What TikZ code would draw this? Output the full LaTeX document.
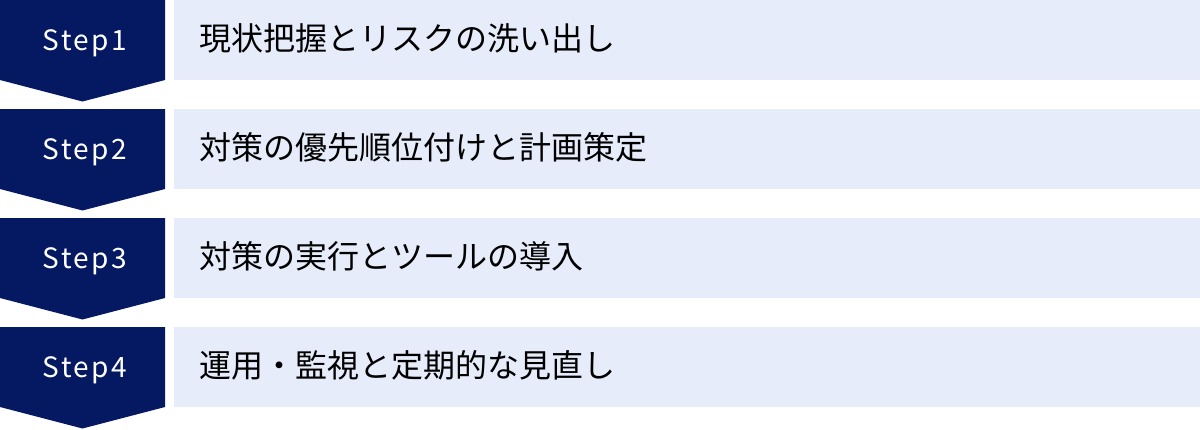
\documentclass[tikz,border=0pt]{standalone}
\usepackage{fontspec}
\newfontfamily\jpfont{Noto Sans CJK JP}
\newfontfamily\stepfont[LetterSpace=9]{Noto Sans CJK JP}
\definecolor{navy}{RGB}{5,24,98}
\definecolor{paleblue}{RGB}{230,236,250}
\begin{document}
\begin{tikzpicture}[x=1pt,y=-1pt,
  stepshape/.style={fill=navy,draw=none},
  bar/.style={fill=paleblue,draw=none},
  steplabel/.style={text=white,inner sep=0pt,anchor=base,font=\stepfont\fontsize{28}{32}\selectfont},
  tasklabel/.style={text=black,inner sep=0pt,anchor=base west,font=\jpfont\fontsize{32}{38}\selectfont}]
\useasboundingbox (0,0) rectangle (1200,429);
\foreach \i/\task in {0/現状把握とリスクの洗い出し,1/対策の優先順位付けと計画策定,2/対策の実行とツールの導入,3/運用・監視と定期的な見直し}{
  \pgfmathsetmacro{\t}{109*\i}
  \fill[stepshape] (0,\t) -- (165,\t) -- (165,\t+80) -- (82.5,\t+101.5) -- (0,\t+80) -- cycle;
  \fill[bar] (174,\t) rectangle (1200,\t+80);
  \pgfmathtruncatemacro{\n}{\i+1}
  \node[steplabel] (step\n) at (85,\t+50) {Step\n};
  \node[tasklabel] (task\n) at (199,\t+50) {\task};
}
\end{tikzpicture}
\end{document}
